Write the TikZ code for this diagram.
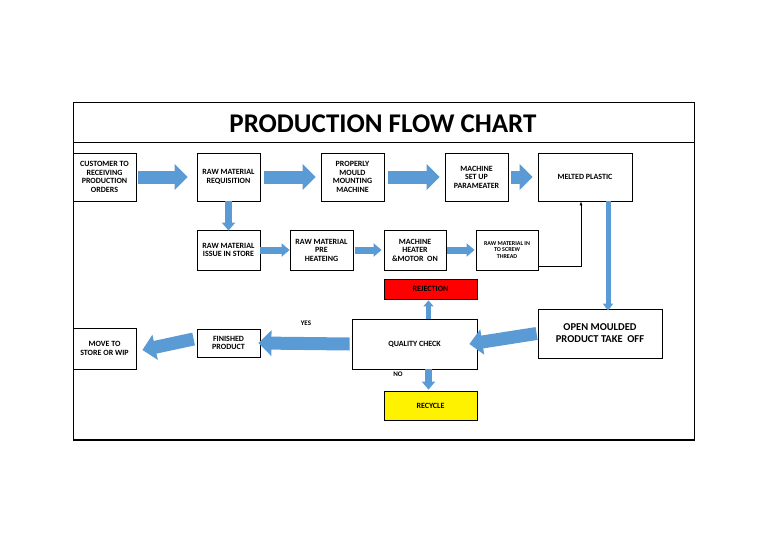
\documentclass[tikz,border=0pt]{standalone}
\usepackage{fontspec}
\setmainfont{Carlito}
\usetikzlibrary{arrows.meta}
\definecolor{ablue}{HTML}{5B9BD5}
\begin{document}
\begin{tikzpicture}[x=1pt,y=-1pt,
box/.style={draw=black, line width=0.8pt, align=center, inner sep=1pt, font=\bfseries\fontsize{8}{8.5}\selectfont},
fat/.style={draw=ablue, line width=13pt, -{Triangle[width=25pt,length=13pt]}},
thin/.style={draw=ablue, line width=7pt, -{Triangle[width=13pt,length=8pt]}},
]
\useasboundingbox (0,0) rectangle (768,543);
\draw[line width=0.8pt] (73,102) rectangle (694,440);
\draw[line width=0.8pt] (73,142) -- (694,142);
\draw[line width=1.6pt] (73,440) -- (694,440);
\node[font=\bfseries\fontsize{27}{28}\selectfont] (title) at (383,124) {PRODUCTION FLOW CHART};
% top row
\node[box, minimum width=63pt, minimum height=48pt] (cust) at (104.5,177) {CUSTOMER TO\\RECEIVING\\PRODUCTION\\ORDERS};
\node[box, minimum width=63pt, minimum height=48pt] (req) at (228.5,177) {RAW MATERIAL\\REQUISITION};
\node[box, minimum width=63pt, minimum height=48pt] (mould) at (352.5,177) {PROPERLY\\MOULD\\MOUNTING\\MACHINE};
\node[box, minimum width=63pt, minimum height=48pt] (setup) at (476.5,177) {MACHINE\\SET UP\\PARAMEATER};
\node[box, minimum width=94pt, minimum height=48pt] (melt) at (585,177) {MELTED PLASTIC};
% second row
\node[box, minimum width=63pt, minimum height=40pt] (issue) at (228.5,250) {RAW MATERIAL\\ISSUE IN STORE};
\node[box, minimum width=63pt, minimum height=40pt] (pre) at (321.5,250) {RAW MATERIAL\\PRE\\HEATEING};
\node[box, minimum width=62pt, minimum height=40pt] (heat) at (415,250) {MACHINE\\HEATER\\\&MOTOR~~ON};
\node[box, minimum width=62pt, minimum height=40pt, font=\bfseries\fontsize{6}{6.5}\selectfont] (screw) at (507,250) {RAW MATERIAL IN\\TO SCREW\\THREAD};
% check part
\node[box, fill=red, minimum width=93pt, minimum height=20pt] (rej) at (430.5,289) {REJECTION};
\node[box, minimum width=124pt, minimum height=49pt, font=\bfseries\fontsize{10.5}{12}\selectfont] (open) at (600,333.5) {OPEN MOULDED\\PRODUCT TAKE~~OFF};
\node[box, minimum width=125pt, minimum height=50pt] (qc) at (414.5,344) {QUALITY CHECK};
\node[box, minimum width=63pt, minimum height=28pt] (fin) at (228.5,343) {FINISHED\\PRODUCT};
\node[box, minimum width=63pt, minimum height=41pt] (move) at (104.5,348.5) {MOVE TO\\STORE OR WIP};
\node[box, fill=yellow, minimum width=93pt, minimum height=29pt] (rec) at (430.5,405.5) {RECYCLE};
\node[font=\bfseries\fontsize{7}{8}\selectfont] (yes) at (306,323) {YES};
\node[font=\bfseries\fontsize{7}{8}\selectfont] (no) at (398,374) {NO};
% arrows
\draw[fat] ([xshift=2pt]cust.east) -- ([xshift=-9pt]req.west);
\draw[fat] ([xshift=4pt]req.east) -- ([xshift=-5pt]mould.west);
\draw[fat] ([xshift=4pt]mould.east) -- ([xshift=-5pt]setup.west);
\draw[fat] ([xshift=3pt]setup.east) -- ([xshift=-5pt]melt.west);
\draw[thin] (req.south) -- ([yshift=-1pt]issue.north);
\draw[thin] (issue.east) -- (pre.west);
\draw[thin] ([xshift=2pt]pre.east) -- ([xshift=-2pt]heat.west);
\draw[thin] ([xshift=1pt]heat.east) -- ([xshift=-1pt]screw.west);
\draw[-{Latex[length=4pt,width=3pt]}, line width=0.6pt] ([yshift=-16pt]screw.east) -| ([xshift=-4pt]melt.south);
\draw[draw=ablue, line width=5pt, -{Triangle[width=10pt,length=7pt]}] ([xshift=23pt]melt.south) -- ([xshift=8pt,yshift=-2pt]open.north);
\draw[fat] ([xshift=-1pt]open.west) -- ([xshift=-8pt]qc.east);
\draw[fat] ([xshift=-2pt]qc.west) -- ([xshift=-2pt]fin.east);
\draw[fat] ([xshift=-3pt,yshift=4pt]fin.west) -- ([xshift=6pt,yshift=-1.5pt]move.east);
\draw[draw=ablue, line width=5pt, -{Triangle[width=10pt,length=6pt]}] ([xshift=14pt]qc.north) -- ([xshift=-2pt,yshift=-1pt]rej.south);
\draw[thin] ([xshift=14pt]qc.south) -- ([xshift=-2pt,yshift=1pt]rec.north);
\end{tikzpicture}
\end{document}
